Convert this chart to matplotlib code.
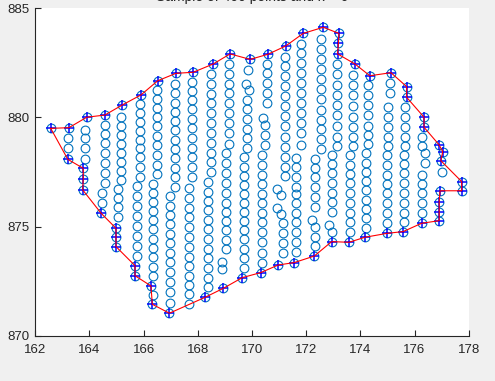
import matplotlib
matplotlib.use('Agg')
import matplotlib.pyplot as plt

plt.rcParams['font.family'] = ['Liberation Sans', 'DejaVu Sans']

title = 'Sample of 400 points and k = 6'

# sample points, read column by column (x of the column, y of each point)
col_x = [163.22, 163.84, 164.57, 164.46, 165.16, 165.05, 165.86, 165.75,
         166.49, 166.35, 167.16, 166.97, 167.78, 167.67, 168.49, 168.38,
         169.15, 169.04, 168.91, 169.85, 169.78, 169.89, 169.81, 169.70,
         170.55, 170.40, 170.48, 170.37, 171.22, 170.94, 171.07, 171.14,
         171.81, 171.64, 172.55, 172.33, 172.20, 173.14, 172.95, 172.84,
         173.73, 173.62, 174.28, 174.21, 175.09, 175.02, 174.98, 175.65,
         175.61, 176.27, 176.39, 177.00]
col_y = [
    [879.06, 878.59],
    [879.43, 879.05, 878.59, 878.10],
    [879.65, 879.24, 878.82, 878.39, 877.93, 877.47, 877.01],
    [876.53, 876.07],
    [880.02, 879.59, 879.20, 878.78, 878.37, 877.96, 877.55, 877.13],
    [876.72, 876.31, 875.90, 875.44],
    [880.62, 880.20, 879.79, 879.36, 878.97, 878.58, 878.17, 877.73, 877.29],
    [876.86, 876.40, 875.94, 875.49, 875.03, 874.57, 874.11, 873.65],
    [881.26, 880.85, 880.43, 880.02, 879.59, 879.15, 878.72, 878.28, 877.84, 877.41],
    [876.97, 876.54, 876.13, 875.71, 875.30, 874.87, 874.45, 874.02, 873.61,
     873.17, 872.74, 871.87],
    [881.53, 881.12, 880.68, 880.27, 879.84, 879.43, 878.97, 878.55, 878.12,
     877.68, 877.25, 876.81],
    [876.38, 875.94, 875.53, 875.10, 874.66, 874.23, 873.79, 873.36, 872.92,
     872.46, 871.98, 871.50],
    [881.64, 881.23, 880.80, 880.37, 879.91, 879.50, 879.05, 878.62, 878.17,
     877.72, 877.26],
    [876.77, 876.31, 875.85, 875.42, 874.97, 874.51, 874.08, 873.62, 873.20,
     872.74, 872.32, 871.91, 871.45],
    [881.98, 881.53, 881.07, 880.64, 880.19, 879.73, 879.29, 878.84, 878.39,
     877.96, 877.51],
    [877.06, 876.60, 876.15, 875.74, 875.30, 874.87, 874.43, 873.97, 873.54,
     873.08, 872.65, 872.21],
    [882.45, 881.99, 881.53, 881.11, 880.65, 880.20, 879.73, 879.27, 878.78],
    [878.35, 877.90, 877.44, 876.98, 876.52, 876.08, 875.67, 875.24, 874.82,
     874.39, 873.96],
    [873.39, 873.04],
    [882.17],
    [881.52],
    [881.26],
    [880.80, 880.37, 879.92, 879.46, 879.04, 878.60],
    [878.19, 877.75, 877.32, 876.91, 876.49, 876.08, 875.67, 875.26, 874.84,
     874.42, 873.96, 873.55, 873.09],
    [882.43, 882.02, 881.59, 881.13, 880.68],
    [879.96],
    [879.65, 879.20, 878.76],
    [878.28, 877.82, 877.36, 876.95, 876.49, 876.07, 875.64, 875.22, 874.77,
     874.31, 873.80, 873.34],
    [882.78, 882.36, 881.90, 881.44, 880.98, 880.52, 880.07, 879.61, 879.12,
     878.66, 878.19, 877.74, 877.32],
    [876.71, 875.84],
    [876.45, 875.58],
    [875.15, 874.69, 874.23, 873.78],
    [883.36, 882.94, 882.48, 882.02, 881.56, 881.11, 880.65, 880.19, 879.73,
     879.27, 878.74],
    [878.13, 877.74, 877.29, 876.83, 876.49, 876.07, 875.61, 875.22, 874.77,
     874.31, 873.85],
    [883.58, 883.12, 882.66, 882.21, 881.75, 881.29, 880.83, 880.34, 879.88,
     879.46, 878.99, 878.54],
    [878.08, 877.67, 877.26, 876.80, 876.34, 875.91, 874.99, 874.54, 874.11],
    [875.30],
    [882.45, 881.99, 881.49, 881.03, 880.57, 880.11, 879.61, 879.12, 878.67],
    [878.28, 877.87, 877.44, 877.01, 876.55, 876.14, 875.68, 874.77],
    [875.07],
    [881.94, 881.49, 881.03, 880.52, 880.03, 879.55, 879.12, 878.69],
    [878.28, 877.82, 877.41, 876.98, 876.55, 876.07, 875.64, 875.22, 874.77],
    [881.49, 881.03, 880.57, 880.11, 879.61, 879.20, 878.78],
    [878.36, 877.93, 877.51, 877.10, 876.68, 876.22, 875.79, 875.38, 874.92],
    [881.56, 881.11],
    [880.46, 880.01, 879.58, 879.12, 878.68],
    [878.28, 877.82, 877.36, 876.95, 876.53, 876.10, 875.64, 875.18],
    [880.46, 880.03, 879.58, 879.09, 878.69],
    [878.28, 877.87, 877.44, 877.01, 876.55, 876.10, 875.64, 875.22],
    [879.12, 878.69, 877.36, 876.95, 876.53, 876.07, 875.64],
    [878.39, 877.93],
    [877.51],
]

# concave hull vertices, in order
hull_x = [162.57, 163.24, 163.90, 164.57, 165.21, 165.90, 166.52, 167.19,
          167.83, 168.57, 169.19, 169.93, 170.58, 171.24, 171.89, 172.63,
          173.21, 173.19, 173.16, 173.80, 174.35, 175.13, 175.71, 175.71,
          176.35, 176.35, 176.91, 177.04, 176.97, 177.74, 177.74, 176.94,
          176.91, 176.91, 176.91, 176.26, 175.58, 174.99, 174.17, 173.58,
          172.94, 172.30, 171.56, 170.97, 170.32, 169.64, 168.94, 168.27,
          166.95, 166.32, 166.27, 165.68, 165.68, 164.98, 164.98, 164.98,
          164.43, 163.75, 163.77, 163.77, 163.20]
hull_y = [879.50, 879.53, 880.01, 880.11, 880.57, 881.03, 881.68, 882.02,
          882.07, 882.45, 882.91, 882.66, 882.89, 883.27, 883.85, 884.13,
          883.85, 883.40, 882.91, 882.45, 881.91, 882.05, 881.41, 880.92,
          880.01, 879.55, 878.74, 878.43, 878.02, 877.06, 876.64, 876.64,
          876.14, 875.68, 875.27, 875.15, 874.77, 874.69, 874.51, 874.28,
          874.31, 873.65, 873.35, 873.24, 872.89, 872.66, 872.17, 871.76,
          871.03, 871.44, 872.28, 872.75, 873.21, 874.08, 874.51, 874.92,
          875.61, 876.68, 877.18, 877.67, 878.08]

xs = []
ys = []
for x, col in zip(col_x, col_y):
    xs += [x] * len(col)
    ys += col
xs += hull_x
ys += hull_y

fig = plt.figure(figsize=(4.95, 3.81), dpi=100, facecolor='#f0f0f0')
ax = fig.add_axes([0.0713, 0.1189, 0.8756, 0.8593])

ax.plot(xs, ys, 'o', color='#0072bd', ms=6.3, mew=0.8, mfc='none', zorder=2)
ax.plot(hull_x, hull_y, '+', color='#0000ff', ms=7, mew=1.1, zorder=3)
ax.plot(hull_x + hull_x[:1], hull_y + hull_y[:1], '-', color='#ff0000', lw=0.8, zorder=4)

ax.set_xlim(162, 178)
ax.set_ylim(870, 885)
ax.set_xticks(range(162, 179, 2))
ax.set_yticks([870, 875, 880, 885])
ax.spines['top'].set_visible(False)
ax.spines['right'].set_visible(False)
for s in ['left', 'bottom']:
    ax.spines[s].set_color('#262626')
    ax.spines[s].set_linewidth(0.8)
ax.tick_params(direction='in', length=4, width=0.8, colors='#262626', labelsize=9.5)
ax.tick_params(axis='x', pad=6)
ax.tick_params(axis='y', pad=4)

# the title sits mostly above the figure edge, as in the original
fig.text(0.509, 1 - 1.0 / 381, title, ha='center', va='baseline', fontsize=10, color='#262626')

fig.savefig('out.png', dpi=100, facecolor=fig.get_facecolor())
